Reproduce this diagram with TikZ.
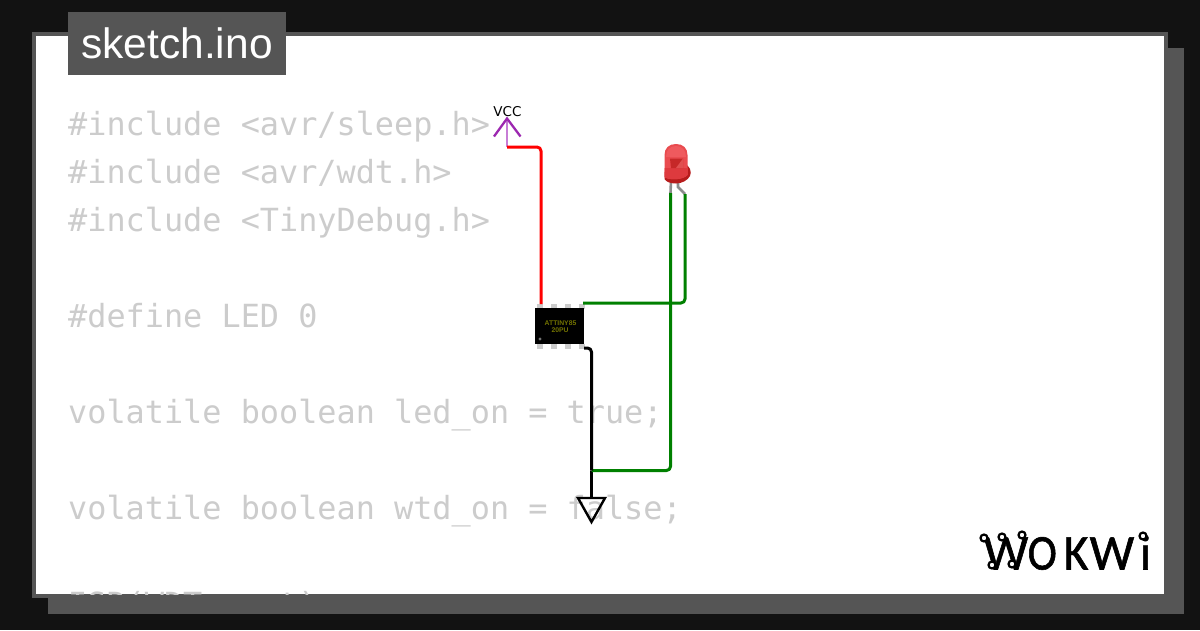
\documentclass[tikz,border=0pt]{standalone}
\usepackage{fontspec}
\setmainfont{Liberation Sans}
\newfontfamily\codefont{DejaVu Sans Mono}
\newfontfamily\labelfont{DejaVu Sans}
\newfontfamily\logofont[FakeBold=1.2]{Carlito}
\newcommand{\logoletter}[3]{\rlap{\kern#1pt\scalebox{#2}[1]{#3}}}
\definecolor{bgdark}{HTML}{121212}
\definecolor{framegray}{HTML}{555555}
\definecolor{codegray}{HTML}{CCCCCC}
\definecolor{wiregreen}{HTML}{008000}
\definecolor{vccpurple}{HTML}{9C27B0}
\definecolor{vccstem}{HTML}{C77DD6}
\definecolor{pingray}{HTML}{CCCCCC}
\definecolor{chiptext}{HTML}{737300}
\definecolor{ledbody}{HTML}{E94B4F}
\definecolor{ledtop}{HTML}{EF5A5E}
\definecolor{ledbase}{HTML}{DE3A3E}
\definecolor{leddark}{HTML}{B71C1C}
\definecolor{ledpost}{HTML}{C62828}
\definecolor{ledmark}{HTML}{E05050}
\definecolor{ledleg}{HTML}{8C8C8C}
\tikzset{
  codeline/.style={anchor=base west,inner sep=0pt,text=codegray,font=\codefont\fontsize{31.85}{32}\selectfont},
  wire/.style={line width=3pt,rounded corners=4pt,line join=round},
  pinbox/.style={fill=pingray,draw=none},
  ledpin/.style={draw=ledleg,line width=2.6pt},
  ring/.style={circle,draw=black,fill=white,line width=2.2pt,minimum size=7pt,inner sep=0pt},
  chiplabel/.style={inner sep=0pt,text=chiptext,font=\fontsize{6.8}{7}\selectfont\bfseries}
}
\begin{document}
\begin{tikzpicture}[x=1pt,y=-1pt]
\useasboundingbox (0,0) rectangle (1200,630);
\fill[bgdark] (0,0) rectangle (1200,630);
\fill[framegray] (48,48) rectangle (1184,614);
\fill[framegray] (32,32) rectangle (1168,598);
\fill[white] (36,36) rectangle (1164,594);
\begin{scope}
\clip (36,36) rectangle (1164,594);
\node[codeline] (c1) at (68,135) {\#include <avr/sleep.h>};
\node[codeline] (c2) at (68,183) {\#include <avr/wdt.h>};
\node[codeline] (c3) at (68,231) {\#include <TinyDebug.h>};
\node[codeline] (c4) at (68,327) {\#define LED 0};
\node[codeline] (c5) at (68,423) {volatile boolean led\_on = true;};
\node[codeline] (c6) at (68,519) {volatile boolean wtd\_on = false;};
\node[codeline] (c7) at (68,615) {ISR(WDT\_vect)};
\end{scope}
\fill[framegray] (68,12) rectangle (286,75);
\node[anchor=base,inner sep=0pt,text=white,font=\fontsize{42.5}{44}\selectfont] (title) at (177,58) {sketch.ino};
% VCC
\coordinate (vcctip) at (507,118.5);
\coordinate (vccfoot) at (507,147);
\draw[vccstem,line width=1.8pt] (vcctip) -- (vccfoot);
\draw[vccpurple,line width=2.3pt] (494,136.5) -- (vcctip) -- (520.5,136.5);
\node[inner sep=0pt,font=\labelfont\fontsize{13.5}{14}\selectfont] (vcc) at (507.5,111.5) {VCC};
% chip
\foreach \x in {537,551,565,579}{
  \fill[pinbox] (\x,304) rectangle ++(6,5);
  \fill[pinbox] (\x,344) rectangle ++(6,5);
}
\node[fill=black,minimum width=49pt,minimum height=36pt,inner sep=0pt] (chip) at (559.5,326) {};
\fill[black!55] (540,339) circle (1.6pt);
\node[chiplabel] (chipa) at (560.5,323) {ATTINY85};
\node[chiplabel] (chipb) at (560,330.5) {20PU};
\coordinate (pinvcc) at (541,304);
\coordinate (pinpb) at (583,303);
\coordinate (pingnd) at (584,348);
% ground
\coordinate (gndtop) at (591.5,498);
\coordinate (junction) at (591.5,470.5);
\draw[black,line width=2.3pt] (junction) -- (gndtop);
\draw[black,line width=2.4pt,line join=miter] (578,498) -- (605,498) -- (591.5,522) -- cycle;
% LED
\coordinate (ledA) at (670.5,193);
\coordinate (ledC) at (685,194);
\draw[ledpin] (671,181) -- (ledA);
\draw[ledpin] (678,181) -- (678,187) -- (ledC);
\fill[leddark] (684,164) .. controls (690,165) and (692,172) .. (690,176) .. controls (688,180) and (682,183.5) .. (676,183.5) .. controls (671,183.5) and (666,182) .. (664.5,179) -- (664.5,172) -- cycle;
\fill[ledbody] (664.5,177) -- (664.5,155) .. controls (664.5,148) and (669,144) .. (676,144) .. controls (683,144) and (687.5,148) .. (687.5,155) -- (687.5,175) .. controls (683,180) and (669,180.5) .. (664.5,177) -- cycle;
\fill[ledtop] (666,157) .. controls (666,150) and (670,146) .. (676,146) .. controls (682,146) and (686,150) .. (686,157) -- cycle;
\fill[ledbase] (664.5,168) -- (687.5,168) -- (687.5,175) .. controls (683,180) and (669,180.5) .. (664.5,177) -- cycle;
\fill[ledpost] (670,158.5) -- (683,158.5) -- (683,168) -- (671,168) -- cycle;
\fill[ledmark] (676,168) -- (683,158.5) -- (683,168) -- cycle;
% wires
\draw[wire,red] (vccfoot) -| (pinvcc);
\draw[wire,wiregreen] (pinpb) -| (ledC);
\draw[wire,wiregreen] (junction) -| (ledA);
\draw[wire,black] (pingnd) -| (junction);
% logo
\node[anchor=base west,inner sep=0pt,font=\logofont\fontsize{50}{52}\selectfont] (logo) at (983,569.5) {\logoletter{0}{1}{W}\logoletter{44}{.88}{O}\logoletter{80}{.95}{K}\logoletter{106}{1}{W}\logoletter{156}{1}{i}};
\foreach \p/\n in {984/538,1002/537,1022/535,992/565,1012/564}{
  \node[ring] at (\p,\n) {};
}
\node[ring] at (1143,536) {};
\end{tikzpicture}
\end{document}
